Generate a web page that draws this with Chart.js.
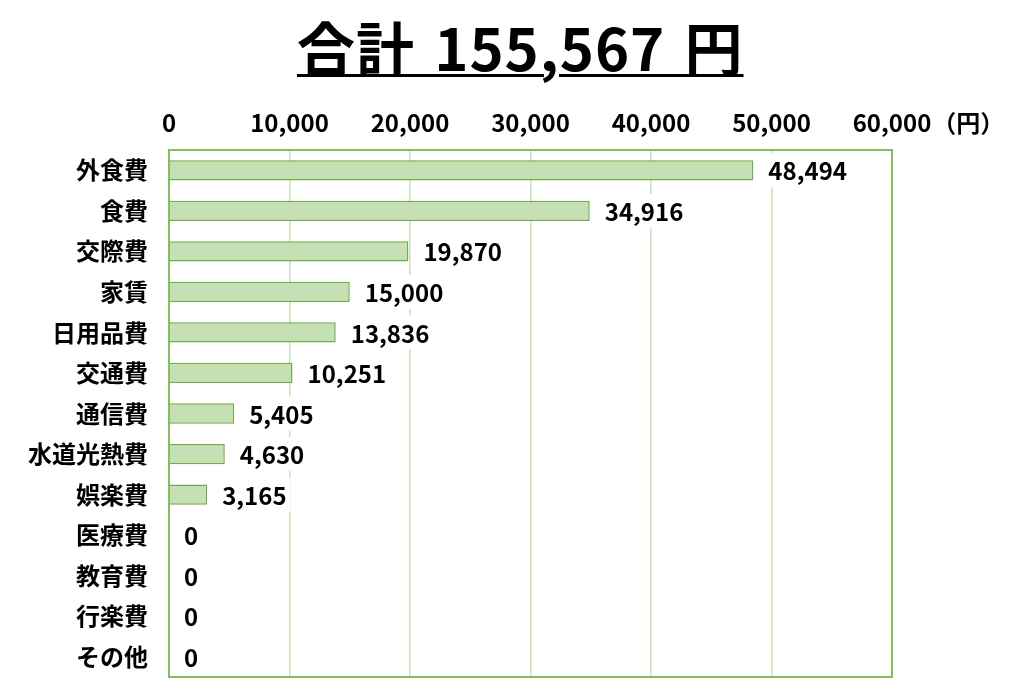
<!DOCTYPE html>
<html><head><meta charset="utf-8">
<script src="https://cdn.jsdelivr.net/npm/chart.js@4.4.1/dist/chart.umd.min.js"></script>
<style>
html,body{margin:0;padding:0;background:#fff;}
#wrap{position:relative;width:1024px;height:690px;overflow:hidden;}
#title{position:absolute;left:297px;top:15px;margin:0;font-family:"Noto Sans CJK JP";font-weight:700;font-size:58px;letter-spacing:1px;word-spacing:5px;line-height:1.1;text-decoration:underline;text-decoration-thickness:3px;text-underline-offset:3px;white-space:nowrap;color:#000;}
canvas{position:absolute;left:0;top:0;}
</style></head><body>
<div id="wrap"><canvas id="c" width="1024" height="690"></canvas><div id="title"></div></div>
<script>
const categories = ['外食費','食費','交際費','家賃','日用品費','交通費','通信費','水道光熱費','娯楽費','医療費','教育費','行楽費','その他'];
const values = [48494,34916,19870,15000,13836,10251,5405,4630,3165,0,0,0,0];
const tickValues = [0,10000,20000,30000,40000,50000,60000];
const unitLabel = '（円）';
const titlePrefix = '合計';
const titleSuffix = '円';

const FONT = '"Noto Sans CJK JP", "Noto Sans", sans-serif';
const fmt = v => Number(v).toLocaleString('en-US');
const total = values.reduce((a,b)=>a+b,0);
document.getElementById('title').textContent = titlePrefix + ' ' + fmt(total) + ' ' + titleSuffix;

const framePlugin = {
  id:'frame',
  beforeDatasetsDraw(chart){
    const {ctx, chartArea:a} = chart;
    ctx.save();
    ctx.strokeStyle = '#84bd62';
    ctx.lineWidth = 2;
    ctx.strokeRect(a.left, a.top, a.right-a.left, a.bottom-a.top);
    ctx.restore();
  }
};
const labelPlugin = {
  id:'valueLabels',
  afterDatasetsDraw(chart){
    const {ctx} = chart;
    const meta = chart.getDatasetMeta(0);
    ctx.save();
    ctx.font = 'bold 24px ' + FONT;
    ctx.textBaseline = 'middle';
    ctx.textAlign = 'left';
    meta.data.forEach((el,i)=>{
      const t = fmt(values[i]);
      const x = el.x + 15;
      const w = ctx.measureText(t).width;
      ctx.fillStyle = '#fff';
      ctx.fillRect(x-4, el.y-17, w+8, 34);
      ctx.fillStyle = '#000';
      ctx.fillText(t, x, el.y+1);
    });
    ctx.restore();
  }
};
const unitPlugin = {
  id:'unit',
  afterDraw(chart){
    const {ctx} = chart;
    const xs = chart.scales.x;
    const last = tickValues[tickValues.length-1];
    const px = xs.getPixelForValue(last);
    ctx.save();
    ctx.font = 'bold 24px ' + FONT;
    ctx.textBaseline = 'middle';
    ctx.textAlign = 'left';
    ctx.fillStyle = '#000';
    const w = ctx.measureText(fmt(last)).width;
    ctx.fillText(unitLabel, px + w/2 + 1, chart.chartArea.top - 13 - 14.4);
    ctx.restore();
  }
};

new Chart(document.getElementById('c'), {
  type:'bar',
  data:{labels:categories, datasets:[{data:values, backgroundColor:'#c5e0b4', borderColor:'#70ad47', borderWidth:1.5, barPercentage:0.5, categoryPercentage:1}]},
  options:{
    indexAxis:'y', responsive:false, animation:false, devicePixelRatio:1,
    layout:{padding:{top:95,right:132,left:0,bottom:13}},
    plugins:{legend:{display:false}, tooltip:{enabled:false}},
    scales:{
      x:{position:'top', min:0, max:60000,
         afterBuildTicks(s){ s.ticks = tickValues.map(v=>({value:v})); },
         ticks:{callback:v=>fmt(v), font:{family:FONT, size:24, weight:'bold'}, color:'#000', padding:13, maxRotation:0, autoSkip:false},
         grid:{color:'#c9e2b9', lineWidth:1.5, drawTicks:false}, border:{display:false},
         afterFit(s){ s.height = 55; s.paddingLeft = 0; s.paddingRight = 0; }},
      y:{ticks:{font:{family:FONT, size:24, weight:'bold'}, color:'#000', padding:13, autoSkip:false},
         grid:{display:false}, border:{display:false},
         afterFit(s){ s.width = 169; s.paddingTop = 0; s.paddingBottom = 0; }}
    }
  },
  plugins:[framePlugin, labelPlugin, unitPlugin]
});
</script>
</body></html>
